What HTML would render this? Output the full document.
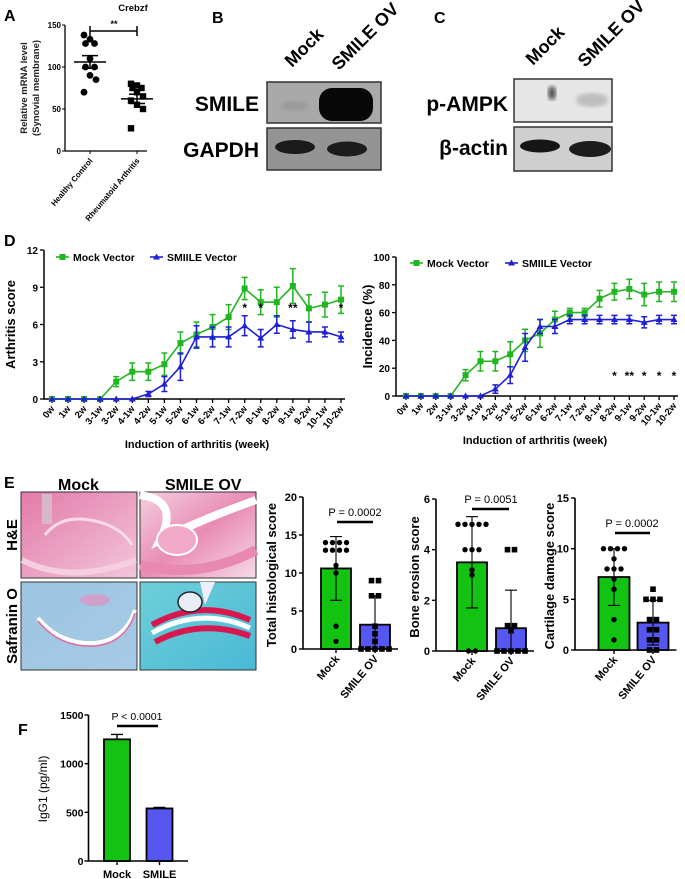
<!DOCTYPE html>
<html><head><meta charset="utf-8"><style>
html,body{margin:0;padding:0;background:#fff}
svg{display:block;font-family:"Liberation Sans",sans-serif}
</style></head><body>
<svg id="fig" xmlns="http://www.w3.org/2000/svg" width="685" height="879" viewBox="0 0 685 879">
<defs>
<linearGradient id="he1" x1="0" y1="0" x2="1" y2="1"><stop offset="0" stop-color="#e57aa8"/><stop offset="0.5" stop-color="#eaa0c2"/><stop offset="1" stop-color="#f3c6da"/></linearGradient>
<linearGradient id="he2" x1="0" y1="0" x2="1" y2="1"><stop offset="0" stop-color="#f4d0e0"/><stop offset="0.5" stop-color="#e98cb4"/><stop offset="1" stop-color="#f6dbe7"/></linearGradient>
<linearGradient id="sa1" x1="0" y1="0" x2="1" y2="1"><stop offset="0" stop-color="#9cc6e0"/><stop offset="1" stop-color="#a7c9e6"/></linearGradient>
<linearGradient id="sa2" x1="0" y1="0" x2="1" y2="1"><stop offset="0" stop-color="#6fcfd8"/><stop offset="1" stop-color="#49b9d6"/></linearGradient>
<filter id="blur2"><feGaussianBlur stdDeviation="2"/></filter>
</defs>
<g font-weight="bold" font-size="16" fill="#000">
<text x="4" y="21">A</text>
<text x="212" y="23">B</text>
<text x="434" y="23">C</text>
<text x="4" y="246">D</text>
<text x="4" y="488">E</text>
<text x="18" y="735">F</text>
</g>

<g>
<text x="292" y="68" font-size="18" font-weight="bold" transform="rotate(-45 292 68)">Mock</text>
<text x="339" y="71" font-size="18" font-weight="bold" transform="rotate(-45 339 71)">SMILE OV</text>
<rect x="267" y="82" width="114" height="41" fill="#a9a9a9" stroke="#333" stroke-width="1.5"/>
<ellipse cx="295" cy="106" rx="14" ry="5" fill="#9a9a9a" filter="url(#blur2)"/>
<rect x="319" y="88" width="54" height="33" rx="13" fill="#080808"/>
<rect x="267" y="128" width="114" height="42" fill="#949494" stroke="#333" stroke-width="1.5"/>
<ellipse cx="295" cy="147" rx="20" ry="7" fill="#1a1a1a"/>
<ellipse cx="347" cy="149" rx="20" ry="7.5" fill="#1c1c1c"/>
<text x="259" y="111" font-size="21" font-weight="bold" text-anchor="end">SMILE</text>
<text x="259" y="157" font-size="21" font-weight="bold" text-anchor="end">GAPDH</text>
</g>
<g>
<text x="533" y="66" font-size="18" font-weight="bold" transform="rotate(-45 533 66)">Mock</text>
<text x="585" y="68" font-size="18" font-weight="bold" transform="rotate(-45 585 68)">SMILE OV</text>
<rect x="514" y="79" width="98" height="43" fill="#e6e6e6" stroke="#333" stroke-width="1.5"/>
<ellipse cx="552" cy="93" rx="4" ry="7" fill="#555" filter="url(#blur2)"/>
<ellipse cx="592" cy="100" rx="16" ry="7" fill="#bdbdbd" filter="url(#blur2)"/>
<rect x="514" y="127" width="98" height="44" fill="#cfcfcf" stroke="#333" stroke-width="1.5"/>
<ellipse cx="540" cy="146" rx="20" ry="6.5" fill="#151515"/>
<ellipse cx="590" cy="149" rx="21" ry="8" fill="#1c1c1c"/>
<text x="508" y="111" font-size="21" font-weight="bold" text-anchor="end">p-AMPK</text>
<text x="508" y="155" font-size="21" font-weight="bold" text-anchor="end">β-actin</text>
</g>

<g>
<text x="58" y="490" font-size="16" font-weight="bold">Mock</text>
<text x="165" y="490" font-size="16" font-weight="bold">SMILE OV</text>
<text transform="translate(17 535) rotate(-90)" text-anchor="middle" font-size="15" font-weight="bold">H&amp;E</text>
<text transform="translate(17 626) rotate(-90)" text-anchor="middle" font-size="15" font-weight="bold">Safranin O</text>
<g>
<rect x="21" y="492" width="116" height="86" fill="url(#he1)" stroke="#333" stroke-width="1"/>
<path d="M45 535 Q60 515 90 520 Q120 525 132 545" fill="none" stroke="#f7dbe8" stroke-width="3"/>
<path d="M22 560 Q70 585 136 560" fill="none" stroke="#f5cfe0" stroke-width="6"/>
<rect x="42" y="494" width="10" height="30" fill="#d8b8c8"/>
</g>
<g>
<rect x="140" y="492" width="116" height="86" fill="url(#he2)" stroke="#333" stroke-width="1"/>
<path d="M140 495 Q180 500 160 540 Q200 520 256 500" fill="none" stroke="#fff" stroke-width="8"/>
<ellipse cx="177" cy="540" rx="20" ry="15" fill="#f0aac8" stroke="#fff" stroke-width="2"/>
<path d="M140 565 Q200 580 256 550" fill="none" stroke="#e88ab0" stroke-width="10"/>
</g>
<g>
<rect x="21" y="582" width="116" height="88" fill="url(#sa1)" stroke="#333" stroke-width="1"/>
<path d="M38 618 Q60 645 95 643 Q125 640 135 610" fill="none" stroke="#fff" stroke-width="4"/>
<path d="M38 621 Q60 648 95 646 Q125 643 135 613" fill="none" stroke="#e26aa0" stroke-width="1.5"/>
<ellipse cx="95" cy="600" rx="15" ry="6" fill="#cfa0cc"/>
</g>
<g>
<rect x="140" y="582" width="116" height="88" fill="url(#sa2)" stroke="#333" stroke-width="1"/>
<path d="M152 625 Q200 598 250 620" fill="none" stroke="#d8174e" stroke-width="6"/>
<path d="M152 633 Q200 606 250 628" fill="none" stroke="#fff" stroke-width="5"/>
<path d="M155 642 Q200 618 250 636" fill="none" stroke="#d8174e" stroke-width="6"/>
<ellipse cx="190" cy="602" rx="12" ry="10" fill="#e8eef4" stroke="#223" stroke-width="1.5"/>
<path d="M200 582 L205 605 L215 582" fill="#eef"/>
</g>
</g>
</svg>
<script>
// ---------- data ----------
const weekCats = ["0w","1w","2w","3-1w","3-2w","4-1w","4-2w","5-1w","5-2w","6-1w","6-2w","7-1w","7-2w","8-1w","8-2w","9-1w","9-2w","10-1w","10-2w"];
const scoreMock = [0,0,0,0,1.4,2.2,2.2,2.8,4.5,5.2,5.8,6.6,8.9,7.8,7.8,9.1,7.3,7.6,8.0];
const scoreMockErr = [0,0,0,0,0.4,0.7,0.7,0.9,0.9,1.0,1.0,1.0,0.9,1.0,1.2,1.4,1.1,1.0,1.1];
const scoreSmile = [0,0,0,0,0,0,0.4,1.2,2.6,5.0,5.0,5.0,5.9,4.9,6.0,5.6,5.4,5.4,5.0];
const scoreSmileErr = [0,0,0,0,0,0,0.2,0.6,1.1,0.9,0.8,0.8,0.8,0.7,0.7,0.7,0.8,0.4,0.4];
const scoreStars = ["","","","","","","","","","","","","*","*","","**","","","*"];
const scoreTicks = [0,3,6,9,12];
const incMock = [0,0,0,0,15,25,25,30,40,45,55,60,60,70,75,77,73,75,75];
const incMockErr = [0,0,0,0,4,7,7,9,8,10,6,3,3,6,6,7,8,7,7];
const incSmile = [0,0,0,0,0,0,5,15,35,50,50,55,55,55,55,55,53,55,55];
const incSmileErr = [0,0,0,0,0,0,3,6,10,5,5,3,3,3,3,3,4,3,3];
const incStars = ["","","","","","","","","","","","","","","*","**","*","*","*"];
const incTicks = [0,20,40,60,80,100];

const aCats = ["Healthy Control","Rheumatoid Arthritis"];
const aHealthy = [138,133,128,128,110,100,100,90,85,70];
const aRA = [80,78,75,75,70,65,60,55,50,27];
const aMeans = [106,62];
const aSem = [7.5,5.5];
const aTicks = [0,50,100,150];

const groupCats = ["Mock","SMILE OV"];
const totalMeans = [10.6,3.2];
const totalSD = [4.2,3.8];
const totalMock = [14,14,14,14,13,13,13,13,11,10,3,1];
const totalSmile = [9,9,7,7,3,2,1,0,0,0,0,0];
const totalTicks = [0,5,10,15,20];
const boneMeans = [3.5,0.9];
const boneSD = [1.8,1.5];
const boneMock = [5,5,5,5,5,4,4,4,3.2,3,0,0];
const boneSmile = [4,4,1,1,0.8,0,0,0,0,0];
const boneTicks = [0,2,4,6];
const cartMeans = [7.2,2.7];
const cartSD = [2.8,2.2];
const cartMock = [10,10,10,10,9,8,8,8,7,6,3,1];
const cartSmile = [6,5,5,5,3,3,2,2,1,1,0,0];
const cartTicks = [0,5,10,15];

const fCats = ["Mock","SMILE"];
const fMeans = [1250,540];
const fErr = [50,10];
const fTicks = [0,500,1000,1500];

// ---------- helpers ----------
const NS = "http://www.w3.org/2000/svg";
const svg = document.getElementById("fig");
function mk(tag, attrs, parent){
  const e = document.createElementNS(NS, tag);
  for (const k in attrs) e.setAttribute(k, attrs[k]);
  (parent || svg).appendChild(e);
  return e;
}
function txt(parent, x, y, s, size, anchor, weight, rot){
  const t = mk("text", {x:x, y:y, "font-size":size, "text-anchor":anchor||"start", "font-weight":weight||"bold", fill:"#000"}, parent);
  if (rot) t.setAttribute("transform", "rotate(" + rot + " " + x + " " + y + ")");
  t.textContent = s;
  return t;
}
const GREEN = "#22b522", BLUE = "#1f1fd6";

// ---------- line charts (panel D) ----------
function lineChart(name, ax, x0, x1, y0, yTop, maxV, ticks, mock, mockErr, smile, smileErr, stars, starY, yTitle, yTitleX, xTitleX, xTitleY, legY, legX2){
  const g = mk("g", {});
  
  
  const step = (x1 - x0) / (weekCats.length - 1);
  const X = i => x0 + i * step;
  const Y = v => y0 - (v / maxV) * (y0 - yTop);
  const axis = mk("path", {d:"M"+ax+" "+yTop+" V"+y0+" H"+(x1+4), stroke:"#000", "stroke-width":1.5, fill:"none"}, g);
  
  
  ticks.forEach(v => {
    mk("line", {x1:ax-4, x2:ax, y1:Y(v), y2:Y(v), stroke:"#000", "stroke-width":1.3}, g);
    const t = txt(g, ax-6, Y(v)+4, String(v), 10, "end");
    
    
  });
  weekCats.forEach((c, i) => {
    mk("line", {x1:X(i), x2:X(i), y1:y0, y2:y0+4, stroke:"#000", "stroke-width":1.3}, g);
    const t = txt(g, X(i)+3, y0+10, c, 9.5, "end", "bold", -50);
    
    
  });
  [[mock, mockErr, GREEN, "mock"], [smile, smileErr, BLUE, "smile"]].forEach(([vals, errs, col, nm]) => {
    vals.forEach((v, i) => {
      if (errs[i] > 0) {
        const e = mk("path", {d:"M"+X(i)+" "+Y(v-errs[i])+" V"+Y(v+errs[i])+" M"+(X(i)-3)+" "+Y(v-errs[i])+" h6 M"+(X(i)-3)+" "+Y(v+errs[i])+" h6", stroke:col, "stroke-width":1.5, fill:"none"}, g);
        
        
      }
    });
    const pl = mk("polyline", {points: vals.map((v,i)=>X(i)+","+Y(v)).join(" "), stroke:col, "stroke-width":1.6, fill:"none"}, g);
    
    
    vals.forEach((v, i) => {
      let m;
      if (nm === "mock") m = mk("rect", {x:X(i)-3, y:Y(v)-3, width:6, height:6, fill:col}, g);
      else m = mk("path", {d:"M"+X(i)+" "+(Y(v)-3.5)+" l3.5 6 h-7 z", fill:col}, g);
      
      
    });
  });
  stars.forEach((s, i) => {
    if (!s) return;
    const t = txt(g, X(i), starY, s, 12, "middle");
    
    
  });
  const yt = txt(g, 0, 0, yTitle, 13, "middle");
  yt.setAttribute("transform", "translate(" + yTitleX + " " + ((y0+yTop)/2) + ") rotate(-90)");
  
  
  const xt = txt(g, xTitleX, xTitleY, "Induction of arthritis (week)", 11, "middle");
  
  
  const lg = mk("g", {}, g);
  
  
  const lx = x0 + 4;
  mk("line", {x1:lx, x2:lx+13, y1:legY, y2:legY, stroke:GREEN, "stroke-width":1.6}, lg);
  mk("rect", {x:lx+3.5, y:legY-3, width:6, height:6, fill:GREEN}, lg);
  const l1 = txt(lg, lx+17, legY+4, "Mock Vector", 10.5, "start");
  
  
  mk("line", {x1:legX2, x2:legX2+13, y1:legY, y2:legY, stroke:BLUE, "stroke-width":1.6}, lg);
  mk("path", {d:"M"+(legX2+6.5)+" "+(legY-3.5)+" l3.5 6 h-7 z", fill:BLUE}, lg);
  const l2 = txt(lg, legX2+17, legY+4, "SMIILE Vector", 10.5, "start");
  
  
}
lineChart("arthritis-score-chart", 44, 52, 341, 399, 250, 12, scoreTicks, scoreMock, scoreMockErr, scoreSmile, scoreSmileErr, scoreStars, 312, "Arthritis score", 15, 197, 448, 257, 150);
lineChart("incidence-chart", 396, 406, 674, 396, 257, 100, incTicks, incMock, incMockErr, incSmile, incSmileErr, incStars, 380, "Incidence (%)", 372, 535, 444, 263, 505);

// ---------- scatter dot plot (panel A) ----------
(function(){
  const g = mk("g", {});
  
  
  const ax = 65, y0 = 151, yTop = 25, maxV = 150;
  const Y = v => y0 - v / maxV * (y0 - yTop);
  const xs = [90, 137];
  const a = mk("path", {d:"M"+ax+" "+yTop+" V"+y0+" H147", stroke:"#000", "stroke-width":1.3, fill:"none"}, g);
  
  
  aTicks.forEach(v => {
    mk("line", {x1:ax-3, x2:ax, y1:Y(v), y2:Y(v), stroke:"#000"}, g);
    const t = txt(g, ax-4, Y(v)+3, String(v), 8, "end");
    
    
  });
  aCats.forEach((c, i) => {
    mk("line", {x1:xs[i], x2:xs[i], y1:y0, y2:y0+3, stroke:"#000"}, g);
    const t = txt(g, xs[i]+3, y0+10, c, 8, "end", "bold", -50);
    
    
  });
  [aHealthy, aRA].forEach((vals, gi) => {
    const seen = {};
    vals.forEach(v => { seen[v] = (seen[v]||0) + 1; });
    const cnt = {};
    vals.forEach((v, j) => {
      const n = seen[v]; const k = cnt[v] = (cnt[v]||0); cnt[v]++;
      const dx = n > 1 ? (k - (n-1)/2) * 9 : ((j % 3) - 1) * 6;
      let m;
      if (gi === 0) m = mk("circle", {cx:xs[gi]+dx, cy:Y(v), r:3.4, fill:"#000"}, g);
      else m = mk("rect", {x:xs[gi]+dx-3.2, y:Y(v)-3.2, width:6.4, height:6.4, fill:"#000"}, g);
      
      
    });
    const mean = aMeans[gi], s = aSem[gi];
    const e = mk("path", {d:"M"+(xs[gi]-16)+" "+Y(mean)+" h32 M"+xs[gi]+" "+Y(mean-s)+" V"+Y(mean+s)+" M"+(xs[gi]-8)+" "+Y(mean-s)+" h16 M"+(xs[gi]-8)+" "+Y(mean+s)+" h16", stroke:"#000", "stroke-width":1.5, fill:"none"}, g);
    
    
  });
  mk("path", {d:"M90 26 V36 M90 31 H137 M137 26 V36", stroke:"#000", "stroke-width":1.5, fill:"none"}, g);
  txt(g, 114, 27, "**", 9, "middle");
  const tt = txt(g, 133, 11, "Crebzf", 9.5, "middle");
  
  
  const yl = mk("text", {transform:"translate(27 88) rotate(-90)", "text-anchor":"middle", "font-size":9.5, "font-weight":"bold", fill:"#222"}, g);
  
  
  yl.innerHTML = '<tspan x="0" dy="0">Relative mRNA level</tspan><tspan x="0" dy="12">(Synovial membrane)</tspan>';
})();

// ---------- bar + dots charts (panel E) ----------
function barDots(name, ax, y0, yTop, maxV, ticks, means, sds, ptsM, ptsS, cxs, bw, yTitle, yTitleX, pText, pX, pY, lineY, lineX1, lineX2){
  const g = mk("g", {});
  
  
  const Y = v => y0 - v / maxV * (y0 - yTop);
  const a = mk("path", {d:"M"+ax+" "+yTop+" V"+y0+" H"+(cxs[1]+bw/2+8), stroke:"#000", "stroke-width":1.6, fill:"none"}, g);
  
  
  ticks.forEach(v => {
    mk("line", {x1:ax-4, x2:ax, y1:Y(v), y2:Y(v), stroke:"#000", "stroke-width":1.4}, g);
    const t = txt(g, ax-6, Y(v)+4, String(v), 11, "end", "bold");
    
    
  });
  const cols = ["#12c312", "#5656f0"];
  [ptsM, ptsS].forEach((pts, gi) => {
    const cx = cxs[gi];
    const b = mk("rect", {x:cx-bw/2, y:Y(means[gi]), width:bw, height:y0-Y(means[gi]), fill:cols[gi], stroke:"#000", "stroke-width":1.8}, g);
    
    
    const lo = Math.max(0, means[gi]-sds[gi]), hi = means[gi]+sds[gi];
    const e = mk("path", {d:"M"+cx+" "+Y(lo)+" V"+Y(hi)+" M"+(cx-6)+" "+Y(hi)+" h12 M"+(cx-6)+" "+Y(lo)+" h12", stroke:"#000", "stroke-width":1.1, fill:"none"}, g);
    
    
    const seen = {}; pts.forEach(v => { seen[v] = (seen[v]||0)+1; });
    const cnt = {};
    pts.forEach(v => {
      const n = seen[v]; const k = cnt[v] = (cnt[v]||0); cnt[v]++;
      const dx = Math.max(-14, Math.min(14, (k - (n-1)/2) * 7));
      let m;
      if (gi === 0) m = mk("circle", {cx:cx+dx, cy:Y(v), r:2.7, fill:"#000"}, g);
      else m = mk("rect", {x:cx+dx-2.8, y:Y(v)-2.8, width:5.6, height:5.6, fill:"#000"}, g);
      
      
    });
    mk("line", {x1:cx, x2:cx, y1:y0, y2:y0+4, stroke:"#000", "stroke-width":1.4}, g);
    const t = txt(g, cx+4, y0+10, groupCats[gi], 11, "end", "bold", -50);
    
    
  });
  const yt = txt(g, 0, 0, yTitle, 13, "middle");
  yt.setAttribute("transform", "translate(" + yTitleX + " " + ((y0+yTop)/2 + 2) + ") rotate(-90)");
  
  
  const p = txt(g, pX, pY, pText, 11, "middle", "normal");
  
  
  const l = mk("line", {x1:lineX1, x2:lineX2, y1:lineY, y2:lineY, stroke:"#000", "stroke-width":2.6}, g);
  
  
}
barDots("total-histological-chart", 303, 649, 497, 20, totalTicks, totalMeans, totalSD, totalMock, totalSmile, [336, 375], 30, "Total histological score", 276, "P = 0.0002", 355, 516, 522, 337, 373);
barDots("bone-erosion-chart", 436, 651, 499, 6, boneTicks, boneMeans, boneSD, boneMock, boneSmile, [472, 511], 30, "Bone erosion score", 419, "P = 0.0051", 491, 503, 509, 472, 509);
barDots("cartilage-damage-chart", 575, 650, 498, 15, cartTicks, cartMeans, cartSD, cartMock, cartSmile, [614, 653], 31, "Cartilage damage score", 554, "P = 0.0002", 632, 527, 533, 615, 650);

// ---------- panel F ----------
(function(){
  const g = mk("g", {});
  
  
  const ax = 88.5, y0 = 861, yTop = 715, maxV = 1500;
  const Y = v => y0 - v / maxV * (y0 - yTop);
  const cxs = [117, 159.5], bw = 26;
  const a = mk("path", {d:"M"+ax+" "+yTop+" V"+y0+" H188", stroke:"#000", "stroke-width":1.6, fill:"none"}, g);
  
  
  fTicks.forEach(v => {
    mk("line", {x1:ax-4, x2:ax, y1:Y(v), y2:Y(v), stroke:"#000", "stroke-width":1.4}, g);
    const t = txt(g, ax-5, Y(v)+4, String(v), 10.5, "end");
    
    
  });
  const cols = ["#12c312", "#5656f0"];
  fMeans.forEach((v, i) => {
    const b = mk("rect", {x:cxs[i]-bw/2, y:Y(v), width:bw, height:y0-Y(v), fill:cols[i], stroke:"#000", "stroke-width":1.8}, g);
    
    
    const e = mk("path", {d:"M"+cxs[i]+" "+Y(v)+" V"+Y(v+fErr[i])+" M"+(cxs[i]-6)+" "+Y(v+fErr[i])+" h12", stroke:"#000", "stroke-width":1.4, fill:"none"}, g);
    
    
    mk("line", {x1:cxs[i], x2:cxs[i], y1:y0, y2:y0+4, stroke:"#000", "stroke-width":1.4}, g);
    const t = txt(g, cxs[i], 878, fCats[i], 11, "middle");
    
    
  });
  const yt = txt(g, 0, 0, "IgG1 (pg/ml)", 12, "middle", "normal");
  yt.setAttribute("transform", "translate(47 789) rotate(-90)");
  
  
  const p = txt(g, 137, 720, "P < 0.0001", 10.5, "middle", "normal");
  
  
  const l = mk("line", {x1:117, x2:158, y1:726, y2:726, stroke:"#000", "stroke-width":2.5}, g);
  
  
})();
</script>
</body></html>
